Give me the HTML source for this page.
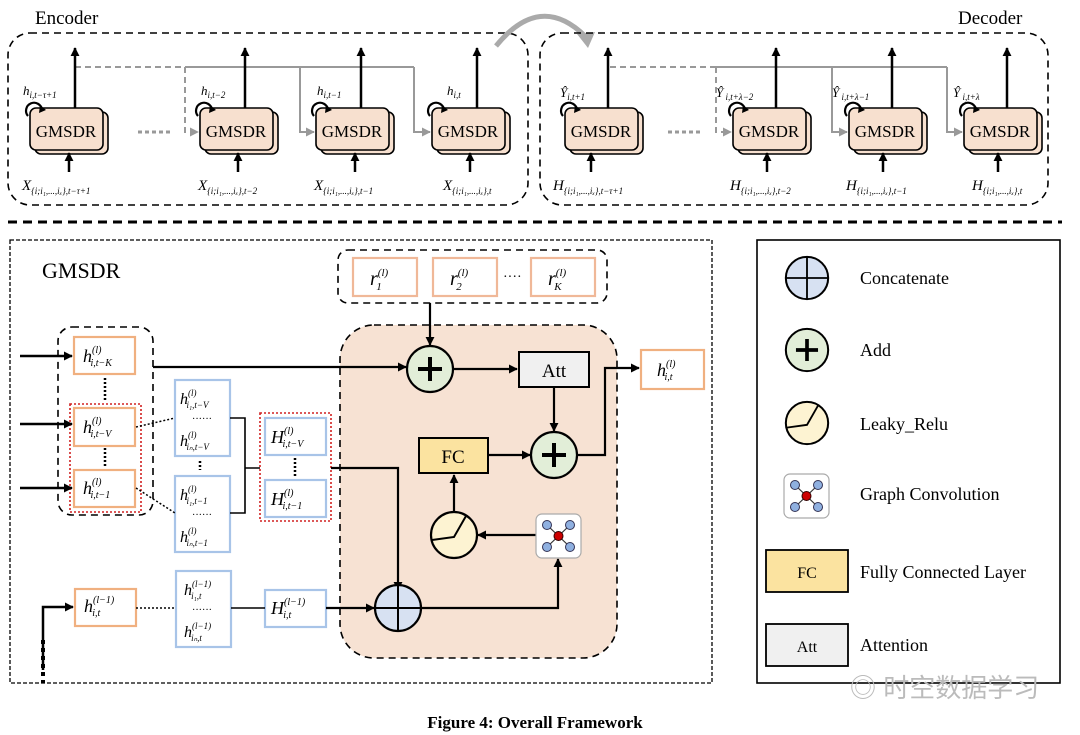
<!DOCTYPE html>
<html><head><meta charset="utf-8"><style>
html,body{margin:0;padding:0;background:#fff;}
svg{display:block;font-family:"Liberation Serif",serif;}
.m{font-style:italic;}
</style></head><body>
<svg width="1080" height="735" viewBox="0 0 1080 735" xmlns="http://www.w3.org/2000/svg">
<defs>
<marker id="a" viewBox="0 0 10 10" refX="9" refY="5" markerWidth="9" markerHeight="9" markerUnits="userSpaceOnUse" orient="auto"><path d="M0,0L10,5L0,10z" fill="#000"/></marker>
<marker id="g" viewBox="0 0 10 10" refX="9" refY="5" markerWidth="9" markerHeight="9" markerUnits="userSpaceOnUse" orient="auto"><path d="M0,0L10,5L0,10z" fill="#999"/></marker>
<g id="gm">
<rect x="5" y="4" width="73" height="42" rx="6" fill="#f7e0cf" stroke="#000" stroke-width="1.6"/>
<rect x="0" y="0" width="73" height="42" rx="6" fill="#f7e0cf" stroke="#000" stroke-width="1.6"/>
<path d="M-2,8 A8,8 0 1 1 12,2" fill="none" stroke="#000" stroke-width="2.2"/>
<path d="M10,-3 L16,2 L9,5z" fill="#000"/>
<text x="36" y="29" font-size="17" text-anchor="middle">GMSDR</text>
</g>
<g id="gc">
<rect x="0" y="0" width="45" height="44" rx="6" fill="#fff" stroke="#aaa" stroke-width="1.2"/>
<g stroke="#333" stroke-width="1.2"><line x1="11" y1="11" x2="34" y2="33"/><line x1="34" y1="11" x2="11" y2="33"/></g>
<circle cx="11" cy="11" r="4.5" fill="#8fb0e0" stroke="#335" stroke-width="1"/>
<circle cx="34" cy="11" r="4.5" fill="#8fb0e0" stroke="#335" stroke-width="1"/>
<circle cx="11" cy="33" r="4.5" fill="#8fb0e0" stroke="#335" stroke-width="1"/>
<circle cx="34" cy="33" r="4.5" fill="#8fb0e0" stroke="#335" stroke-width="1"/>
<circle cx="22.5" cy="22" r="4.5" fill="#c00" stroke="#300" stroke-width="1"/>
</g>
<g id="add"><circle r="23" fill="#e2eed8" stroke="#000" stroke-width="2.2"/><path d="M-12,0H12M0,-12V12" stroke="#000" stroke-width="4"/></g>
<g id="cat"><circle r="23" fill="#d7e1f2" stroke="#000" stroke-width="2.2"/><path d="M-23,0H23M0,-23V23" stroke="#000" stroke-width="2"/></g>
<g id="lr"><circle r="23" fill="#fdf3d2" stroke="#000" stroke-width="2.2"/><path d="M-22,5L0,2L12,-19" fill="none" stroke="#000" stroke-width="2"/></g>
</defs>

<!-- Encoder -->
<text x="35" y="24" font-size="19">Encoder</text>
<rect x="8" y="33" width="520" height="172" rx="22" fill="none" stroke="#000" stroke-width="1.6" stroke-dasharray="7,5"/>
<g stroke="#999" stroke-width="2" fill="none">
<path d="M75,67H185" stroke-dasharray="6,4"/>
<path d="M185,67V132H198" stroke-dasharray="6,4" marker-end="url(#g)"/>
<path d="M185,67H414"/>
<path d="M300,67V132H314" marker-end="url(#g)"/>
<path d="M414,67V132H430" marker-end="url(#g)"/>
<path d="M138,132H172" stroke-dasharray="4,3" stroke-width="3"/>
</g>
<use href="#gm" x="30" y="108"/><use href="#gm" x="200" y="108"/><use href="#gm" x="316" y="108"/><use href="#gm" x="432" y="108"/>
<g stroke="#000" stroke-width="2.5" marker-end="url(#a)">
<line x1="75" y1="108" x2="75" y2="48"/><line x1="245" y1="108" x2="245" y2="48"/><line x1="361" y1="108" x2="361" y2="48"/><line x1="477" y1="108" x2="477" y2="48"/>
<line x1="69" y1="172" x2="69" y2="153"/><line x1="238" y1="172" x2="238" y2="153"/><line x1="355" y1="172" x2="355" y2="153"/><line x1="470" y1="172" x2="470" y2="153"/>
</g>
<g font-size="13" class="m">
<text x="23" y="95">h<tspan font-size="9" dy="3">i,t−τ+1</tspan></text>
<text x="201" y="95">h<tspan font-size="9" dy="3">i,t−2</tspan></text>
<text x="317" y="95">h<tspan font-size="9" dy="3">i,t−1</tspan></text>
<text x="447" y="95">h<tspan font-size="9" dy="3">i,t</tspan></text>
<text x="22" y="190" font-size="15">X<tspan font-size="9" dy="4">{i;i₁,...,iₓ},t−τ+1</tspan></text>
<text x="198" y="190" font-size="15">X<tspan font-size="9" dy="4">{i;i₁,...,iₓ},t−2</tspan></text>
<text x="314" y="190" font-size="15">X<tspan font-size="9" dy="4">{i;i₁,...,iₓ},t−1</tspan></text>
<text x="443" y="190" font-size="15">X<tspan font-size="9" dy="4">{i;i₁,...,iₓ},t</tspan></text>
</g>

<path d="M496,46 Q540,-8 585,36" fill="none" stroke="#aaa" stroke-width="5"/>
<path d="M577,34 L595,32 L588,48z" fill="#aaa"/>

<!-- Decoder -->
<text x="958" y="24" font-size="19">Decoder</text>
<rect x="540" y="33" width="508" height="172" rx="22" fill="none" stroke="#000" stroke-width="1.6" stroke-dasharray="7,5"/>
<g stroke="#999" stroke-width="2" fill="none">
<path d="M610,67H716" stroke-dasharray="6,4"/>
<path d="M716,67V132H731" stroke-dasharray="6,4" marker-end="url(#g)"/>
<path d="M716,67H947"/>
<path d="M832,67V132H847" marker-end="url(#g)"/>
<path d="M947,67V132H962" marker-end="url(#g)"/>
<path d="M668,132H700" stroke-dasharray="4,3" stroke-width="3"/>
</g>
<use href="#gm" x="565" y="108"/><use href="#gm" x="733" y="108"/><use href="#gm" x="849" y="108"/><use href="#gm" x="964" y="108"/>
<g stroke="#000" stroke-width="2.5" marker-end="url(#a)">
<line x1="608" y1="108" x2="608" y2="48"/><line x1="776" y1="108" x2="776" y2="48"/><line x1="892" y1="108" x2="892" y2="48"/><line x1="1007" y1="108" x2="1007" y2="48"/>
<line x1="591" y1="172" x2="591" y2="153"/><line x1="767" y1="172" x2="767" y2="153"/><line x1="883" y1="172" x2="883" y2="153"/><line x1="998" y1="172" x2="998" y2="153"/>
</g>
<g font-size="13" class="m">
<text x="560" y="97">Ŷ<tspan font-size="9" dy="3">i,t+1</tspan></text>
<text x="716" y="97">Ŷ<tspan font-size="9" dy="3"> i,t+λ−2</tspan></text>
<text x="832" y="97">Ŷ<tspan font-size="9" dy="3"> i,t+λ−1</tspan></text>
<text x="953" y="97">Ŷ<tspan font-size="9" dy="3"> i,t+λ</tspan></text>
<text x="553" y="190" font-size="15">H<tspan font-size="9" dy="4">{i;i₁,...,iₓ},t−τ+1</tspan></text>
<text x="730" y="190" font-size="15">H<tspan font-size="9" dy="4">{i;i₁,...,iₓ},t−2</tspan></text>
<text x="846" y="190" font-size="15">H<tspan font-size="9" dy="4">{i;i₁,...,iₓ},t−1</tspan></text>
<text x="972" y="190" font-size="15">H<tspan font-size="9" dy="4">{i;i₁,...,iₓ},t</tspan></text>
</g>

<line x1="8" y1="222" x2="1062" y2="222" stroke="#000" stroke-width="3" stroke-dasharray="9,6"/>

<rect x="10" y="240" width="702" height="443" fill="none" stroke="#000" stroke-width="1.3" stroke-dasharray="4,2"/>
<text x="42" y="278" font-size="22">GMSDR</text>

<rect x="340" y="325" width="277" height="333" rx="34" fill="#f7e2d3" stroke="#000" stroke-width="1.6" stroke-dasharray="7,5"/>

<rect x="338" y="250" width="269" height="53" rx="10" fill="#fff" stroke="#000" stroke-width="1.6" stroke-dasharray="7,5"/>
<g fill="#fff" stroke="#f0b898" stroke-width="2.2">
<rect x="353" y="258" width="64" height="38"/><rect x="433" y="258" width="64" height="38"/><rect x="531" y="258" width="64" height="38"/>
</g>
<g font-size="20" class="m">
<text x="370" y="285">r<tspan font-size="11" dy="-9">(l)</tspan><tspan font-size="11" dx="-12" dy="14">1</tspan></text>
<text x="450" y="285">r<tspan font-size="11" dy="-9">(l)</tspan><tspan font-size="11" dx="-12" dy="14">2</tspan></text>
<text x="548" y="285">r<tspan font-size="11" dy="-9">(l)</tspan><tspan font-size="11" dx="-12" dy="14">K</tspan></text>
</g>
<text x="503" y="281" font-size="14">····</text>

<rect x="58" y="327" width="95" height="188" rx="14" fill="none" stroke="#000" stroke-width="1.6" stroke-dasharray="7,5"/>
<rect x="70" y="404" width="71" height="108" fill="none" stroke="#d02020" stroke-width="1.6" stroke-dasharray="2,2"/>
<g fill="#fff" stroke="#f0b080" stroke-width="2.2">
<rect x="74" y="337" width="61" height="37"/><rect x="74" y="408" width="61" height="38"/><rect x="74" y="470" width="61" height="37"/>
<rect x="75" y="589" width="61" height="37"/>
<rect x="641" y="350" width="63" height="39"/>
</g>
<g stroke="#000" stroke-width="2.5" fill="none" marker-end="url(#a)">
<line x1="20" y1="356" x2="72" y2="356"/><line x1="20" y1="424" x2="72" y2="424"/><line x1="20" y1="488" x2="72" y2="488"/>
<path d="M43,670V607H73"/>
</g>
<path d="M43,640V683" stroke="#000" stroke-width="4" stroke-dasharray="4,4"/>
<path d="M105,378V400M105,448V466" stroke="#000" stroke-width="2.5" stroke-dasharray="2,2"/>
<g font-size="18" class="m">
<text x="83" y="362">h<tspan font-size="10" dy="-9">(l)</tspan><tspan font-size="10" dx="-11" dy="13">i,t−K</tspan></text>
<text x="83" y="433">h<tspan font-size="10" dy="-9">(l)</tspan><tspan font-size="10" dx="-11" dy="13">i,t−V</tspan></text>
<text x="83" y="494">h<tspan font-size="10" dy="-9">(l)</tspan><tspan font-size="10" dx="-11" dy="13">i,t−1</tspan></text>
<text x="84" y="612">h<tspan font-size="10" dy="-9">(l−1)</tspan><tspan font-size="10" dx="-22" dy="13">i,t</tspan></text>
<text x="657" y="376">h<tspan font-size="10" dy="-9">(l)</tspan><tspan font-size="10" dx="-11" dy="13">i,t</tspan></text>
</g>

<g fill="#fff" stroke="#a8c4e8" stroke-width="2.2">
<rect x="175" y="380" width="55" height="76"/><rect x="175" y="476" width="55" height="76"/>
<rect x="176" y="571" width="55" height="76"/>
<rect x="265" y="418" width="61" height="37"/><rect x="265" y="480" width="61" height="37"/>
<rect x="265" y="590" width="61" height="37"/>
</g>
<rect x="260" y="413" width="71" height="108" fill="none" stroke="#d02020" stroke-width="1.6" stroke-dasharray="2,2"/>
<g font-size="16" class="m">
<text x="180" y="404">h<tspan font-size="9" dy="-8">(l)</tspan><tspan font-size="9" dx="-10" dy="12">i₁,t−V</tspan></text>
<text x="192" y="422" font-size="10" font-style="normal">······</text>
<text x="180" y="446">h<tspan font-size="9" dy="-8">(l)</tspan><tspan font-size="9" dx="-10" dy="12">iₙ,t−V</tspan></text>
<text x="180" y="500">h<tspan font-size="9" dy="-8">(l)</tspan><tspan font-size="9" dx="-10" dy="12">i₁,t−1</tspan></text>
<text x="192" y="518" font-size="10" font-style="normal">······</text>
<text x="180" y="542">h<tspan font-size="9" dy="-8">(l)</tspan><tspan font-size="9" dx="-10" dy="12">iₙ,t−1</tspan></text>
<text x="184" y="595">h<tspan font-size="9" dy="-8">(l−1)</tspan><tspan font-size="9" dx="-20" dy="12">i₁,t</tspan></text>
<text x="192" y="613" font-size="10" font-style="normal">······</text>
<text x="184" y="637">h<tspan font-size="9" dy="-8">(l−1)</tspan><tspan font-size="9" dx="-20" dy="12">iₙ,t</tspan></text>
<text x="271" y="443" font-size="18">H<tspan font-size="10" dy="-9">(l)</tspan><tspan font-size="10" dx="-11" dy="13">i,t−V</tspan></text>
<text x="271" y="505" font-size="18">H<tspan font-size="10" dy="-9">(l)</tspan><tspan font-size="10" dx="-11" dy="13">i,t−1</tspan></text>
<text x="271" y="614" font-size="18">H<tspan font-size="10" dy="-9">(l−1)</tspan><tspan font-size="10" dx="-22" dy="13">i,t</tspan></text>
</g>
<path d="M200,461V470M295,458V477" stroke="#000" stroke-width="2.5" stroke-dasharray="2,2"/>
<g stroke="#000" stroke-width="1.5" stroke-dasharray="2,2">
<line x1="136" y1="427" x2="175" y2="418"/><line x1="136" y1="488" x2="175" y2="513"/><line x1="136" y1="608" x2="176" y2="608"/>
</g>
<path d="M230,418H245V513H230M245,468H260" fill="none" stroke="#000" stroke-width="1.6"/>
<path d="M231,608H265" stroke="#000" stroke-width="1.6"/>

<g stroke="#000" stroke-width="2.2" fill="none" marker-end="url(#a)">
<path d="M153,367H406"/>
<path d="M430,303V345"/>
<path d="M453,369H517"/>
<path d="M554,387V431"/>
<path d="M488,455H530"/>
<path d="M577,455H605V368H639"/>
<path d="M454,512V475"/>
<path d="M536,535H478"/>
<path d="M331,468H398V590"/>
<path d="M326,608H374"/>
<path d="M421,608H558V559"/>
</g>
<use href="#add" x="430" y="369"/>
<rect x="519" y="352" width="70" height="35" fill="#f0f0f0" stroke="#000" stroke-width="2"/>
<text x="554" y="377" font-size="19" text-anchor="middle">Att</text>
<use href="#add" x="554" y="455"/>
<rect x="419" y="438" width="69" height="35" fill="#fbe3a0" stroke="#000" stroke-width="2"/>
<text x="453" y="463" font-size="19" text-anchor="middle">FC</text>
<use href="#lr" x="454" y="535"/>
<use href="#gc" x="536" y="514"/>
<use href="#cat" x="398" y="608"/>

<rect x="757" y="240" width="303" height="443" fill="#fff" stroke="#000" stroke-width="1.6"/>
<use href="#cat" x="807" y="278" transform="translate(807,278) scale(0.92) translate(-807,-278)"/>
<use href="#add" x="807" y="350" transform="translate(807,350) scale(0.92) translate(-807,-350)"/>
<use href="#lr" x="807" y="423" transform="translate(807,423) scale(0.92) translate(-807,-423)"/>
<use href="#gc" x="784" y="474"/>
<rect x="766" y="550" width="82" height="42" fill="#fbe3a0" stroke="#000" stroke-width="1.8"/>
<text x="807" y="578" font-size="16" text-anchor="middle">FC</text>
<rect x="766" y="624" width="82" height="42" fill="#f0f0f0" stroke="#000" stroke-width="1.8"/>
<text x="807" y="652" font-size="16" text-anchor="middle">Att</text>
<g font-size="18">
<text x="860" y="284">Concatenate</text>
<text x="860" y="356">Add</text>
<text x="860" y="430">Leaky_Relu</text>
<text x="860" y="500">Graph Convolution</text>
<text x="860" y="578">Fully Connected Layer</text>
<text x="860" y="651">Attention</text>
</g>
<text x="850" y="697" font-size="26" fill="#bbb" font-family="'Liberation Sans','Noto Sans CJK SC',sans-serif">◎ 时空数据学习</text>

<text x="535" y="728" font-size="17" font-weight="bold" text-anchor="middle">Figure 4: Overall Framework</text>
</svg>
</body></html>
